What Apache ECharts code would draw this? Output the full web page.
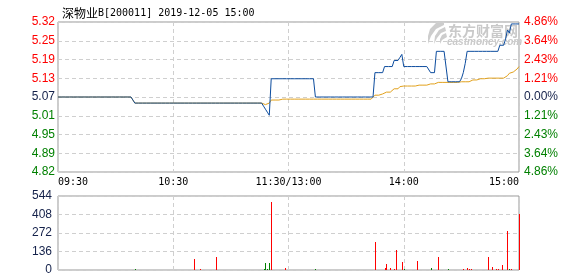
<!DOCTYPE html>
<html><head><meta charset="utf-8">
<script src="https://cdn.jsdelivr.net/npm/echarts@6/dist/echarts.min.js"></script>
<style>html,body{margin:0;padding:0;background:#fff}#c{width:578px;height:276px}</style>
</head><body><div id="c"></div>
<script>
// ---- data ----
const titleName = '深物业';
const titleRest = 'B[200011] 2019-12-05 15:00';
const prevClose = 5.07;
const pctRange = 4.86;
const priceTicks = ['4.82','4.89','4.95','5.01','5.07','5.13','5.19','5.25','5.32'];
const pctTicks = ['4.86%','3.64%','2.43%','1.21%','0.00%','1.21%','2.43%','3.64%','4.86%'];
const volTicks = ['0','136','272','408','544'];
const timeLabels = {0:'09:30',60:'10:30',120:'11:30/13:00',180:'14:00',240:'15:00'};

const price = [
5.07,5.07,5.07,5.07,5.07,5.07,5.07,5.07,5.07,5.07,
5.07,5.07,5.07,5.07,5.07,5.07,5.07,5.07,5.07,5.07,
5.07,5.07,5.07,5.07,5.07,5.07,5.07,5.07,5.07,5.07,
5.07,5.07,5.07,5.07,5.07,5.07,5.07,5.07,5.07,5.07,
5.05,5.05,5.05,5.05,5.05,5.05,5.05,5.05,5.05,5.05,
5.05,5.05,5.05,5.05,5.05,5.05,5.05,5.05,5.05,5.05,
5.05,5.05,5.05,5.05,5.05,5.05,5.05,5.05,5.05,5.05,
5.05,5.05,5.05,5.05,5.05,5.05,5.05,5.05,5.05,5.05,
5.05,5.05,5.05,5.05,5.05,5.05,5.05,5.05,5.05,5.05,
5.05,5.05,5.05,5.05,5.05,5.05,5.05,5.05,5.05,5.05,
5.05,5.05,5.05,5.05,5.05,5.05,5.05,5.04,5.03,5.02,
5.01,5.13,5.13,5.13,5.13,5.13,5.13,5.13,5.13,5.13,
5.13,5.13,5.13,5.13,5.13,5.13,5.13,5.13,5.13,5.13,
5.13,5.13,5.13,5.13,5.07,5.07,5.07,5.07,5.07,5.07,
5.07,5.07,5.07,5.07,5.07,5.07,5.07,5.07,5.07,5.07,
5.07,5.07,5.07,5.07,5.07,5.07,5.07,5.07,5.07,5.07,
5.07,5.07,5.07,5.07,5.07,5.15,5.15,5.15,5.15,5.15,
5.17,5.17,5.17,5.17,5.17,5.19,5.19,5.19,5.20,5.21,
5.17,5.17,5.17,5.17,5.17,5.17,5.17,5.17,5.17,5.17,
5.17,5.17,5.17,5.17,5.15,5.15,5.15,5.22,5.22,5.22,
5.22,5.22,5.22,5.12,5.12,5.12,5.12,5.12,5.12,5.12,
5.13,5.15,5.18,5.22,5.22,5.22,5.22,5.22,5.22,5.22,
5.22,5.22,5.22,5.22,5.22,5.22,5.22,5.22,5.22,5.22,
5.24,5.24,5.24,5.26,5.29,5.28,5.31,5.31,5.31,5.31,
5.31
];
const avgPrice = [
5.07,5.07,5.07,5.07,5.07,5.07,5.07,5.07,5.07,5.07,
5.07,5.07,5.07,5.07,5.07,5.07,5.07,5.07,5.07,5.07,
5.07,5.07,5.07,5.07,5.07,5.07,5.07,5.07,5.07,5.07,
5.07,5.07,5.07,5.07,5.07,5.07,5.07,5.07,5.07,5.07,
5.05,5.05,5.05,5.05,5.05,5.05,5.05,5.05,5.05,5.05,
5.05,5.05,5.05,5.05,5.05,5.05,5.05,5.05,5.05,5.05,
5.05,5.05,5.05,5.05,5.05,5.05,5.05,5.05,5.05,5.05,
5.05,5.05,5.05,5.05,5.05,5.05,5.05,5.05,5.05,5.05,
5.05,5.05,5.05,5.05,5.05,5.05,5.05,5.05,5.05,5.05,
5.05,5.05,5.05,5.05,5.05,5.05,5.05,5.05,5.05,5.05,
5.05,5.05,5.05,5.05,5.05,5.05,5.05,5.05,5.045,5.04,
5.05,5.06,5.06,5.06,5.06,5.06,5.06,5.063,5.063,5.063,
5.063,5.063,5.063,5.063,5.063,5.063,5.063,5.063,5.063,5.063,
5.063,5.063,5.063,5.063,5.063,5.063,5.063,5.063,5.063,5.063,
5.063,5.063,5.063,5.063,5.063,5.063,5.063,5.063,5.063,5.063,
5.063,5.063,5.063,5.063,5.063,5.063,5.063,5.063,5.063,5.063,
5.063,5.063,5.063,5.063,5.063,5.076,5.076,5.076,5.08,5.08,
5.08,5.086,5.086,5.086,5.09,5.097,5.097,5.097,5.104,5.106,
5.106,5.106,5.106,5.106,5.106,5.106,5.106,5.109,5.109,5.109,
5.109,5.109,5.109,5.109,5.113,5.113,5.113,5.118,5.118,5.118,
5.118,5.118,5.118,5.118,5.118,5.118,5.118,5.118,5.118,5.118,
5.12,5.12,5.12,5.12,5.12,5.12,5.126,5.126,5.126,5.13,
5.13,5.13,5.13,5.13,5.132,5.132,5.132,5.132,5.132,5.132,
5.132,5.132,5.132,5.132,5.14,5.148,5.15,5.152,5.156,5.162,
5.17
];
// volume bars: minute index, volume (lots), direction (1 up / 0 down)
const volIndex = [40,71,74,82,107,108,109,110,111,118,134,165,170,171,173,175,176,179,180,187,194,198,203,211,213,214,215,224,226,228,229,231,234,235,236,240];
const volValue = [7,81,7,96,5,51,5,51,502,15,5,206,15,44,15,7,147,59,7,66,15,96,7,7,15,7,7,96,22,7,7,37,287,7,7,412];
const volUp    = [0,1,1,1,0,0,0,0,1,1,0,1,1,1,1,1,1,1,0,1,0,1,0,1,1,1,1,1,1,1,1,1,1,0,1,1];

// ---- minute categories ----
const times = [];
function pad(n){return (n<10?'0':'')+n;}
for (let m = 9*60+30; m <= 11*60+30; m++) times.push(pad(Math.floor(m/60))+':'+pad(m%60));
for (let m = 13*60+1; m <= 15*60; m++) times.push(pad(Math.floor(m/60))+':'+pad(m%60));

const RED = '#ff0000', GREEN = '#008000', NAVY = '#14214a';
const GRID_LINE = {show:true, lineStyle:{color:'#cfcfcf', type:[4,3], width:1}};
const labelFont = 'Liberation Sans, Arial, sans-serif';
const monoFont = 'DejaVu Sans Mono, monospace';
const richColors = {
  r:{color:RED, fontSize:12, fontFamily:labelFont},
  g:{color:GREEN, fontSize:12, fontFamily:labelFont},
  n:{color:NAVY, fontSize:12, fontFamily:labelFont}
};
function tag(i){return i>4?'r':(i<4?'g':'n');}

const chart = echarts.init(document.getElementById('c'), null, {renderer:'canvas'});
const labelIv = function(index){return index % 60 === 0;};

const volData = volIndex.map(function(x,i){return [x, volValue[i], volUp[i]];});

chart.setOption({
  animation:false,
  backgroundColor:'#fff',
  title:{
    text:'{a|'+titleName+'}{b|'+titleRest+'}',
    left:57, top:2,
    textStyle:{fontWeight:'normal', rich:{
      a:{fontFamily:'Noto Sans CJK SC', fontSize:12, fontWeight:'normal', color:'#000'},
      b:{fontFamily:monoFont, fontSize:10, fontWeight:'normal', color:'#000'}
    }}
  },
  graphic:[
    {type:'polygon', z:0, shape:{points:[[444,21],[436,23],[430,29],[428,36],[428,44],[431,36],[436,29],[444,25]]}, style:{fill:'#cdcdcd'}},
    {type:'polygon', z:0, shape:{points:[[445,27],[439,30],[435,36],[434,44],[437,38],[441,33],[446,31]]}, style:{fill:'#cdcdcd'}},
    {type:'polygon', z:0, shape:{points:[[446,33],[442,35],[440,39],[440,44],[442,40],[447,37]]}, style:{fill:'#cdcdcd'}},
    {type:'text', left:448, top:24, z:0, style:{text:'东方财富网', fill:'#c9c9c9', font:'bold 14px "Noto Sans CJK SC"'}},
    {type:'text', left:447, top:37, z:0, style:{text:'eastmoney.com', fill:'#c9c9c9', font:'italic bold 10px "Liberation Sans"'}}
  ],
  grid:[
    {left:58, top:22, width:461, height:150, show:true, borderColor:'#999', borderWidth:1, backgroundColor:'transparent'},
    {left:58, top:196, width:461, height:74, show:true, borderColor:'#999', borderWidth:1, backgroundColor:'transparent'}
  ],
  xAxis:[
    {type:'category', gridIndex:0, data:times, boundaryGap:false,
     axisLine:{show:false}, axisTick:{show:false},
     axisLabel:{interval:labelIv, margin:5, color:'#000', fontFamily:monoFont, fontSize:10,
       alignMinLabel:'left', alignMaxLabel:'right', showMinLabel:true, showMaxLabel:true, hideOverlap:false,
       formatter:function(v,i){return timeLabels[i]!==undefined?timeLabels[i]:v;}},
     splitLine:Object.assign({interval:labelIv}, GRID_LINE)},
    {type:'category', gridIndex:1, data:times, boundaryGap:false,
     axisLine:{show:false}, axisTick:{show:false}, axisLabel:{show:false},
     splitLine:Object.assign({interval:labelIv}, GRID_LINE)}
  ],
  yAxis:[
    {type:'value', gridIndex:0, position:'left', min:0, max:8, interval:1,
     axisLine:{show:false}, axisTick:{show:false}, splitLine:GRID_LINE,
     axisLabel:{margin:3, formatter:function(v){return '{'+tag(v)+'|'+priceTicks[v]+'}';}, rich:richColors}},
    {type:'value', gridIndex:0, position:'right', min:0, max:8, interval:1,
     axisLine:{show:false}, axisTick:{show:false}, splitLine:{show:false},
     axisLabel:{margin:5, formatter:function(v){return '{'+tag(v)+'|'+pctTicks[v]+'}';}, rich:richColors}},
    {type:'value', gridIndex:0, show:false, min:prevClose*(1-pctRange/100), max:prevClose*(1+pctRange/100), splitLine:{show:false}},
    {type:'value', gridIndex:1, position:'left', min:0, max:544, interval:136,
     axisLine:{show:false}, axisTick:{show:false}, splitLine:GRID_LINE,
     axisLabel:{margin:6, color:NAVY, fontSize:12, fontFamily:labelFont,
       formatter:function(v){return volTicks[Math.round(v/136)];}}}
  ],
  series:[
    {type:'line', name:'avg', xAxisIndex:0, yAxisIndex:2, data:avgPrice, symbol:'none', z:2,
     lineStyle:{color:'#e2a11c', width:1}},
    {type:'line', name:'price', xAxisIndex:0, yAxisIndex:2, data:price, symbol:'none', z:3,
     lineStyle:{color:'#0c4c9e', width:1}},
    {type:'custom', name:'vol', xAxisIndex:1, yAxisIndex:3, data:volData,
     encode:{x:0, y:1},
     renderItem:function(params, api){
       const top = api.coord([api.value(0), api.value(1)]);
       const base = api.coord([api.value(0), 0]);
       const x = Math.round(top[0]);
       const y0 = Math.round(base[1]);
       const h = Math.max(1, Math.round(base[1]-top[1]));
       return {type:'rect', shape:{x:x, y:y0-h, width:1, height:h},
               style:{fill: api.value(2) ? RED : GREEN}};
     }}
  ]
});
</script></body></html>
